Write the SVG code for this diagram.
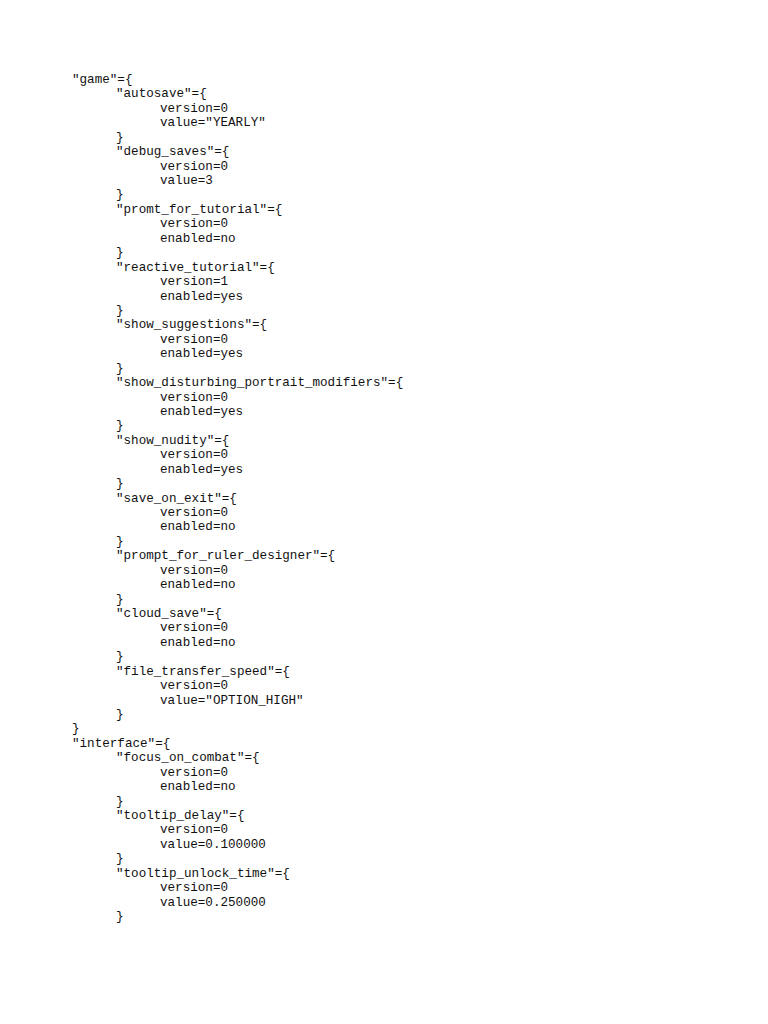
<svg xmlns="http://www.w3.org/2000/svg" width="768" height="1024" viewBox="0 0 768 1024">
<style>text{font-family:"Liberation Mono","DejaVu Sans Mono",monospace;font-size:12.6px;fill:#111;white-space:pre}</style>
<rect width="768" height="1024" fill="#fff"/>
<text x="72" y="83">"game"={</text>
<text x="116" y="97.4">"autosave"={</text>
<text x="160" y="111.9">version=0</text>
<text x="160" y="126.3">value="YEARLY"</text>
<text x="116" y="140.7">}</text>
<text x="116" y="155.2">"debug_saves"={</text>
<text x="160" y="169.6">version=0</text>
<text x="160" y="184">value=3</text>
<text x="116" y="198.4">}</text>
<text x="116" y="212.9">"promt_for_tutorial"={</text>
<text x="160" y="227.3">version=0</text>
<text x="160" y="241.7">enabled=no</text>
<text x="116" y="256.2">}</text>
<text x="116" y="270.6">"reactive_tutorial"={</text>
<text x="160" y="285">version=1</text>
<text x="160" y="299.5">enabled=yes</text>
<text x="116" y="313.9">}</text>
<text x="116" y="328.3">"show_suggestions"={</text>
<text x="160" y="342.8">version=0</text>
<text x="160" y="357.2">enabled=yes</text>
<text x="116" y="371.6">}</text>
<text x="116" y="386">"show_disturbing_portrait_modifiers"={</text>
<text x="160" y="400.5">version=0</text>
<text x="160" y="414.9">enabled=yes</text>
<text x="116" y="429.3">}</text>
<text x="116" y="443.8">"show_nudity"={</text>
<text x="160" y="458.2">version=0</text>
<text x="160" y="472.6">enabled=yes</text>
<text x="116" y="487.1">}</text>
<text x="116" y="501.5">"save_on_exit"={</text>
<text x="160" y="515.9">version=0</text>
<text x="160" y="530.4">enabled=no</text>
<text x="116" y="544.8">}</text>
<text x="116" y="559.2">"prompt_for_ruler_designer"={</text>
<text x="160" y="573.6">version=0</text>
<text x="160" y="588.1">enabled=no</text>
<text x="116" y="602.5">}</text>
<text x="116" y="616.9">"cloud_save"={</text>
<text x="160" y="631.4">version=0</text>
<text x="160" y="645.8">enabled=no</text>
<text x="116" y="660.2">}</text>
<text x="116" y="674.7">"file_transfer_speed"={</text>
<text x="160" y="689.1">version=0</text>
<text x="160" y="703.5">value="OPTION_HIGH"</text>
<text x="116" y="717.9">}</text>
<text x="72" y="732.4">}</text>
<text x="72" y="746.8">"interface"={</text>
<text x="116" y="761.2">"focus_on_combat"={</text>
<text x="160" y="775.7">version=0</text>
<text x="160" y="790.1">enabled=no</text>
<text x="116" y="804.5">}</text>
<text x="116" y="819">"tooltip_delay"={</text>
<text x="160" y="833.4">version=0</text>
<text x="160" y="847.8">value=0.100000</text>
<text x="116" y="862.2">}</text>
<text x="116" y="876.7">"tooltip_unlock_time"={</text>
<text x="160" y="891.1">version=0</text>
<text x="160" y="905.5">value=0.250000</text>
<text x="116" y="920">}</text>
</svg>
